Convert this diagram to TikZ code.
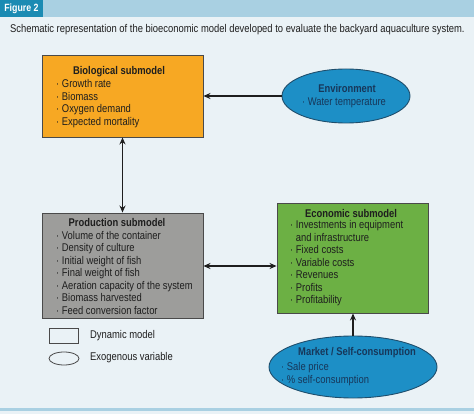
\documentclass[tikz,border=0pt]{standalone}
\usepackage{xcolor}
\usepackage{fontspec}
\setmainfont{Liberation Sans}[FakeStretch=0.84]
\usepackage{tikz}
\usetikzlibrary{arrows.meta,positioning,shapes.geometric}

\definecolor{bgpale}{HTML}{EAF2F6}
\definecolor{barblue}{HTML}{A9D0E2}
\definecolor{figblue}{HTML}{1B8BB3}
\definecolor{bioorange}{HTML}{F7A823}
\definecolor{prodgray}{HTML}{9D9D9B}
\definecolor{econgreen}{HTML}{6CB044}
\definecolor{exoblue}{HTML}{1D8FC6}
\definecolor{exoline}{HTML}{1F4E6C}
\definecolor{boxline}{HTML}{4A4A4A}
\definecolor{inktext}{HTML}{1E1E1E}
\definecolor{navytext}{HTML}{17375A}

\begin{document}
\begin{tikzpicture}[>=Stealth,x=1pt,y=-1pt,
    font=\fontsize{11.2}{12.5}\selectfont,
    submodel/.style={draw=boxline,line width=0.9pt,rectangle,inner sep=0pt},
    exovar/.style={draw=exoline,line width=0.9pt,ellipse,fill=exoblue,inner sep=0pt},
    boxtitle/.style={font=\fontsize{11.2}{12.5}\selectfont\bfseries,text=inktext,inner sep=0pt},
    boxitems/.style={align=left,anchor=west,text=inktext,inner sep=0pt},
    conn/.style={draw=inktext,line width=1.6pt,arrows={-Stealth[length=7pt,width=6pt]}},
    conn2/.style={draw=inktext,line width=1.6pt,arrows={Stealth[length=7pt,width=6pt]-Stealth[length=7pt,width=6pt]}}]
  \useasboundingbox (0,0) rectangle (474,414);
  \fill[bgpale] (0,0) rectangle (474,414);
  % header
  \fill[barblue] (0,0) rectangle (474,17);
  \fill[figblue] (0,0) rectangle (43,17);
  \node[white,font=\fontsize{10.5}{12}\selectfont\bfseries,inner sep=0pt] (figlabel) at (21.5,9) {Figure 2};
  \node[anchor=west,text=inktext,inner sep=0pt] (caption) at (10,30)
    {Schematic representation of the bioeconomic model developed to evaluate the backyard aquaculture system.};
  \fill[barblue] (0,407.5) rectangle (474,410.5);

  % biological submodel
  \node[submodel,fill=bioorange,minimum width=161pt,minimum height=82pt] (bio) at (122.5,96) {};
  \node[boxtitle] (biotitle) at (119,72) {Biological submodel};
  \node[boxitems] (bioitems) at (56,103.5) {· Growth rate\\· Biomass\\· Oxygen demand\\· Expected mortality};

  % production submodel
  \node[submodel,fill=prodgray,minimum width=161pt,minimum height=105pt] (prod) at (122.5,265.5) {};
  \node[boxtitle] (prodtitle) at (117,222) {Production submodel};
  \node[boxitems] (proditems) at (56,272.5) {· Volume of the container\\· Density of culture\\· Initial weight of fish\\· Final weight of fish\\· Aeration capacity of the system\\· Biomass harvested\\· Feed conversion factor};

  % economic submodel
  \node[submodel,fill=econgreen,minimum width=151pt,minimum height=110pt] (econ) at (352.5,258) {};
  \node[boxtitle] (econtitle) at (351,213) {Economic submodel};
  \node[boxitems] (econitems) at (290,263.5) {· Investments in equipment\\\hphantom{· }and infrastructure\\· Fixed costs\\· Variable costs\\· Revenues\\· Profits\\· Profitability};

  % exogenous variables
  \node[exovar,minimum width=128pt,minimum height=54pt] (env) at (346,96) {};
  \node[boxtitle,text=navytext] (envtitle) at (347,88) {Environment};
  \node[inner sep=0pt,text=navytext] (envitems) at (344,103) {· Water temperature};

  \node[exovar,minimum width=168pt,minimum height=62pt] (market) at (353,367) {};
  \node[boxtitle,text=navytext] (markettitle) at (357,353) {Market / Self-consumption};
  \node[boxitems,text=navytext] (marketitems) at (281,374) {· Sale price\\· \% self-consumption};

  % connectors
  \draw[conn] (env.west) -- (bio.east);
  \draw[conn2] (bio.south) -- (prod.north);
  \draw[conn2] (prod.east |- 0,266) -- (econ.west |- 0,266);
  \draw[conn] (market.north) -- (market.north |- econ.south);

  % legend
  \node[draw=boxline,line width=0.8pt,minimum width=29pt,minimum height=15pt,inner sep=0pt] (legbox) at (63.5,335.5) {};
  \node[anchor=west,text=inktext,inner sep=0pt] (legboxtext) at (90,336) {Dynamic model};
  \node[draw=boxline,line width=0.8pt,ellipse,minimum width=30pt,minimum height=13pt,inner sep=0pt] (legell) at (64,358.5) {};
  \node[anchor=west,text=inktext,inner sep=0pt] (legelltext) at (90,358) {Exogenous variable};
\end{tikzpicture}
\end{document}
